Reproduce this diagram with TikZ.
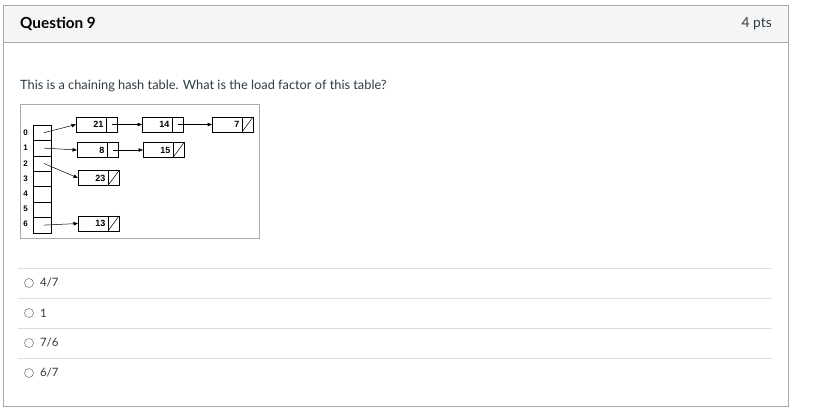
\documentclass[tikz,border=0pt]{standalone}
\usepackage{fontspec}
\setmainfont{Lato}
\newfontfamily\figfont{Liberation Sans}
\usetikzlibrary{arrows.meta,positioning}
\definecolor{frameline}{HTML}{A9A9A9}
\definecolor{headfill}{HTML}{F5F5F5}
\definecolor{sepline}{HTML}{DDDDDD}
\definecolor{bodytext}{HTML}{2D3B45}

\begin{document}
\begin{tikzpicture}[x=1pt, y=-1pt, > = {Triangle[length=4.5pt,width=3.5pt]},
    cell/.style = {draw, line width=0.5pt, minimum width=18pt, minimum height=15.4pt, inner sep=0pt, outer sep=0pt},
    keyf/.style = {draw, line width=0.5pt, text width=25pt, align=right, inner xsep=2.5pt, minimum height=15pt, inner ysep=0pt, outer sep=0pt, font=\figfont\bfseries\fontsize{9}{10}\selectfont},
    ptrf/.style = {draw, line width=0.5pt, minimum width=11pt, minimum height=15pt, inner sep=0pt, outer sep=0pt},
    link/.style = {line width=0.5pt, ->},
    idx/.style = {font=\figfont\bfseries\fontsize{8}{9}\selectfont, inner sep=0pt},
    answer/.style = {font=\fontsize{11.5}{13}\selectfont, text=bodytext, anchor=west, inner sep=0pt},
    radio/.style = {draw=gray, line width=0.6pt, circle, minimum size=9pt, inner sep=0pt}]

    \useasboundingbox (0,0) rectangle (821,416);

    % frame and header
    \fill[white] (0,0) rectangle (821,416);
    \draw[frameline, fill=headfill] (3,5) rectangle (788,42);
    \draw[frameline] (3,42) -- (3,406) -- (788,406) -- (788,42);
    \node[anchor=west, inner sep=0pt, font=\bfseries\fontsize{15.3}{17}\selectfont] (title) at (20,23.5) {Question 9};
    \node[anchor=east, inner sep=0pt, font=\fontsize{13.8}{15}\selectfont, text=bodytext] (pts) at (772,23.5) {4 pts};
    \node[anchor=base west, inner sep=0pt, font=\fontsize{12.8}{14}\selectfont, text=bodytext] (qtext) at (20,89.5) {This is a chaining hash table. What is the load factor of this table?};

    % picture of the table
    \draw[frameline, line width=0.8pt] (20,104) rectangle (259,238);
    \foreach \i in {0,...,6} {
        \node[cell] (c\i) at (42,132.7+15.4*\i) {};
        \node[idx] (n\i) at (25.5,133+15.2*\i) {\i};
    }

    % chain nodes
    \node[keyf] (k21) at (91,124.5) {21};
    \node[ptrf, right=0pt of k21] (p21) {};
    \node[keyf] (k14) at (157,124.5) {14};
    \node[ptrf, right=0pt of k14] (p14) {};
    \node[keyf] (k7) at (227,124.5) {7};
    \node[ptrf, right=0pt of k7] (p7) {};

    \node[keyf] (k8) at (92,150) {8};
    \node[ptrf, right=0pt of k8] (p8) {};
    \node[keyf] (k15) at (158,150) {15};
    \node[ptrf, right=0pt of k15] (p15) {};

    \node[keyf] (k23) at (93,178) {23};
    \node[ptrf, right=0pt of k23] (p23) {};

    \node[keyf] (k13) at (93,223.5) {13};
    \node[ptrf, right=0pt of k13] (p13) {};

    % null pointers
    \foreach \p in {p7,p15,p23,p13}
        \draw[line width=0.5pt] (\p.south west) -- (\p.north east);

    % links
    \draw[link] ([xshift=2pt]c0.center) -- (k21.west);
    \draw[link] ([xshift=2pt]c1.center) -- (k8.west);
    \draw[link] ([xshift=2pt]c2.center) -- (k23.west);
    \draw[link] ([xshift=2pt]c6.center) -- (k13.west);
    \draw[link] (p21.center) -- (k14.west);
    \draw[link] (p14.center) -- (k7.west);
    \draw[link] (p8.center) -- (k15.west);

    % answers
    \foreach \y/\t [count=\k] in {283/4\slash 7, 313/1, 343/7\slash 6, 373/6\slash 7} {
        \draw[sepline, line width=0.8pt] (18,\y-15) -- (772,\y-15);
        \node[radio] (r\k) at (29,\y) {};
        \node[answer, right=6pt of r\k] (a\k) {\t};
    }
\end{tikzpicture}
\end{document}
